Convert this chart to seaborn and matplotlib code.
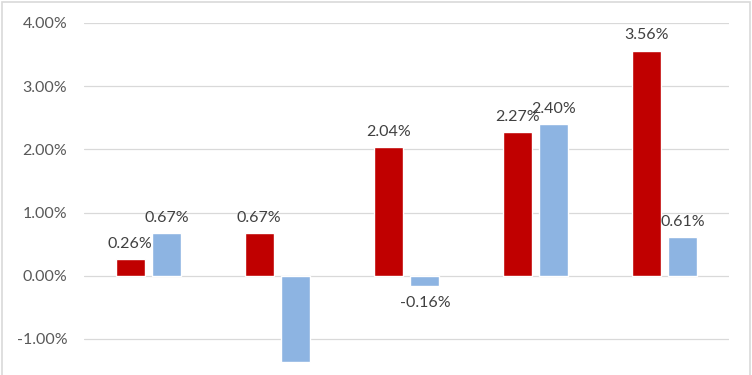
import numpy as np
import pandas as pd
import seaborn as sns
import matplotlib.pyplot as plt
from matplotlib.patches import Rectangle

# values in percent
groups = ['1', '2', '3', '4', '5']
red_vals = [0.26, 0.67, 2.04, 2.27, 3.56]
blue_vals = [0.67, -1.37, -0.16, 2.40, 0.61]
series_names = ['Series 1', 'Series 2']
colors = ['#C00000', '#8DB4E2']
yticks = [-1, 0, 1, 2, 3, 4]

df = pd.DataFrame({
    'group': groups * 2,
    'value': red_vals + blue_vals,
    'series': [series_names[0]] * len(groups) + [series_names[1]] * len(groups),
})

sns.set_style("white")
plt.rcParams['font.family'] = ['Lato', 'DejaVu Sans']

fig = plt.figure(figsize=(7.52, 3.75), dpi=100)
ax = fig.add_axes([84 / 752, -0.0725, (729 - 84) / 752, 1.0112])

sns.barplot(data=df, x='group', y='value', hue='series', palette=colors, saturation=1,
            width=0.57, gap=0.21, errorbar=None, legend=False, ax=ax, zorder=3)

ax.set_ylim(-2, 4)
ax.set_xlim(-0.5, len(groups) - 0.5)
ax.set_yticks(yticks)
ax.set_yticklabels(['{:.2f}%'.format(t) for t in yticks])
ax.yaxis.grid(True, color='#D9D9D9', linewidth=0.9, zorder=0)
ax.set_axisbelow(True)
ax.tick_params(axis='y', length=0, pad=12, labelsize=11.5, labelcolor='#595959')
ax.set_xticks([])
ax.set_xlabel('')
ax.set_ylabel('')
for s in ax.spines.values():
    s.set_visible(False)

# value labels above / below bars
for p in ax.patches:
    h = p.get_height()
    x = p.get_x() + p.get_width() / 2
    if h >= 0:
        ax.annotate('{:.2f}%'.format(h), (x, h), xytext=(0, 6), textcoords='offset points',
                    ha='center', va='bottom', fontsize=11.5, color='#404040')
    elif h > -1.2:
        ax.annotate('{:.2f}%'.format(h), (x, h), xytext=(0, -7), textcoords='offset points',
                    ha='center', va='top', fontsize=11.5, color='#404040')

# chart border
fig.patches.append(Rectangle((2 / 752, -0.1), 748 / 752, 1.1 - 2.5 / 375, transform=fig.transFigure,
                             fill=False, edgecolor='#D9D9D9', linewidth=1.2))

fig.savefig('out.png', dpi=100)
